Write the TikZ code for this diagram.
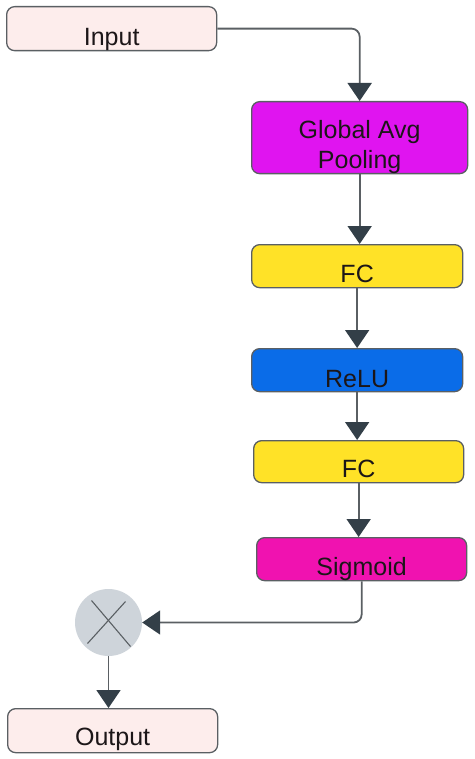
\documentclass[tikz,border=0pt]{standalone}
\usepackage{fontspec}
\setmainfont{Liberation Sans}
\usetikzlibrary{arrows.meta,calc}
\definecolor{inpink}{HTML}{FDEDEC}
\definecolor{gapmag}{HTML}{E014F0}
\definecolor{fcyel}{HTML}{FFE227}
\definecolor{relublue}{HTML}{0A6CE8}
\definecolor{sigpink}{HTML}{F012B0}
\definecolor{mulgray}{HTML}{CED4DA}
\definecolor{linegray}{HTML}{5A5F63}
\definecolor{tipdark}{HTML}{333F48}
\definecolor{txt}{HTML}{1C1618}
\tikzset{
  blk/.style={draw=linegray, line width=1.3pt, rounded corners=8pt, inner sep=0pt,
    font=\fontsize{25}{30}\selectfont, text=txt, anchor=north west},
  conn/.style={draw=linegray, line width=1.8pt, rounded corners=8pt,
    -{Triangle[width=24pt,length=18pt,fill=tipdark,color=tipdark]}},
}
\begin{document}
\begin{tikzpicture}[x=1pt,y=-1pt]
\useasboundingbox (0,0) rectangle (474,759);
\node[blk, fill=inpink, minimum width=210pt, text height=39pt, text depth=5pt] (inp) at (6,6) {Input};
\node[blk, fill=gapmag, minimum width=216pt, text height=67pt, text depth=5pt, align=center] (gap) at (251,101) {Global Avg\\Pooling};
\node[blk, fill=fcyel, minimum width=211pt, text height=38pt, text depth=5pt] (fc1) at (251,244) {FC};
\node[blk, fill=relublue, minimum width=211pt, text height=39pt, text depth=4pt] (relu) at (251,348) {ReLU};
\node[blk, fill=fcyel, minimum width=210pt, text height=37pt, text depth=5pt] (fc2) at (253,440) {FC};
\node[blk, fill=sigpink, minimum width=210pt, text height=38pt, text depth=5pt] (sig) at (256,537) {Sigmoid};
\node[circle, fill=mulgray, minimum size=67pt, inner sep=0pt] (mul) at (108.5,622.5) {};
\draw[linegray, line width=1.1pt] ($(mul.center)+(-17,-22)$) -- ($(mul.center)+(22,24)$);
\draw[linegray, line width=1.1pt] ($(mul.center)+(17,-21)$) -- ($(mul.center)+(-21,21)$);
\node[blk, fill=inpink, minimum width=210pt, text height=37pt, text depth=7pt] (out) at (7,708) {Output};
\draw[conn] (inp.east) -| (gap.north);
\draw[conn] (gap.south) -- (gap.south |- fc1.north);
\draw[conn] (fc1.south) -- (fc1.south |- relu.north);
\draw[conn] (relu.south) -- (relu.south |- fc2.north);
\draw[conn] (fc2.south) -- (fc2.south |- sig.north);
\draw[conn] (sig.south) |- (mul.east);
\draw[conn] (mul.south) -- (mul.south |- out.north);
\end{tikzpicture}
\end{document}
